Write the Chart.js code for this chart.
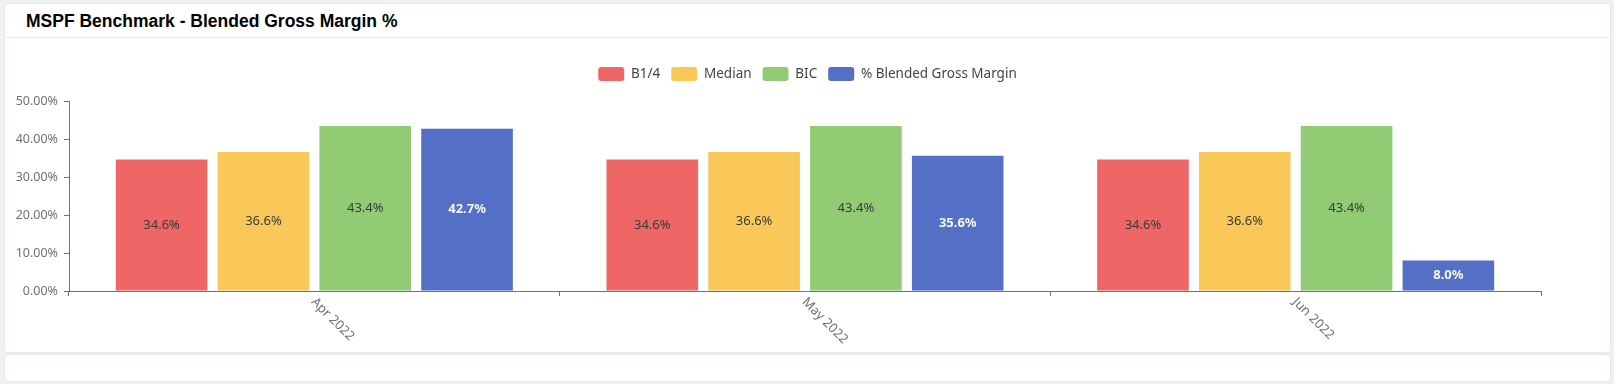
<!DOCTYPE html>
<html>
<head>
<meta charset="utf-8">
<script src="https://cdn.jsdelivr.net/npm/chart.js@4"></script>
<style>
    html, body { margin: 0; padding: 0; }
    body {
        width: 1614px;
        height: 384px;
        background: #eef2f2;
        position: relative;
        overflow: hidden;
        font-family: "Liberation Sans", Arial, sans-serif;
    }
    .card {
        position: absolute;
        left: 4px;
        width: 1605px;
        background: #fff;
        border: 1px solid #e6eaea;
        border-radius: 4px;
    }
    #mainCard { top: 3px; height: 348px; }
    #nextCard { top: 354px; height: 26px; }
    .card-head {
        height: 33px;
        border-bottom: 1px solid #e8ebeb;
        font-weight: bold;
        font-size: 17.5px;
        color: #000;
        line-height: 35px;
        padding-left: 21px;
    }
    .chart-box {
        position: absolute;
        left: 0;
        top: 34px;
        width: 1605px;
        height: 314px;
    }
</style>
</head>
<body>
<div class="card" id="mainCard">
    <div class="card-head">MSPF Benchmark - Blended Gross Margin %</div>
    <div class="chart-box"><canvas id="marginChart"></canvas></div>
</div>
<div class="card" id="nextCard"></div>

<script>
    const months = ["Apr 2022", "May 2022", "Jun 2022"];
    const b14 = [34.6, 34.6, 34.6];
    const median = [36.6, 36.6, 36.6];
    const bic = [43.4, 43.4, 43.4];
    const blendedMargin = [42.7, 35.6, 8.0];

    const axisGray = "#6E7079";
    const chartFont = "'Noto Sans', 'DejaVu Sans', sans-serif";

    // extra room under the legend
    const legendGap = {
        id: "legendGap",
        beforeUpdate(chart) {
            const legend = chart.legend;
            if (!legend || legend._gapPatched) return;
            const fit = legend.fit;
            legend.fit = function () {
                fit.call(this);
                this.height += 10;
            };
            legend._gapPatched = true;
        }
    };

    // values written in the middle of each bar
    const barLabels = {
        id: "barLabels",
        afterDatasetsDraw(chart) {
            const ctx = chart.ctx;
            ctx.save();
            ctx.textAlign = "center";
            ctx.textBaseline = "middle";
            chart.data.datasets.forEach((ds, i) => {
                const meta = chart.getDatasetMeta(i);
                meta.data.forEach((bar, j) => {
                    if (i === 3) {
                        ctx.font = "bold 13px " + chartFont;
                        ctx.fillStyle = "#f4f6fb";
                    } else {
                        ctx.font = "13px " + chartFont;
                        ctx.fillStyle = "#3a3a3a";
                    }
                    ctx.fillText(ds.data[j].toFixed(1) + "%", bar.x, (bar.y + bar.base) / 2);
                });
            });
            ctx.restore();
        }
    };

    // slanted month labels going down to the right
    const monthLabels = {
        id: "monthLabels",
        afterDraw(chart) {
            const ctx = chart.ctx;
            const xScale = chart.scales.x;
            ctx.save();
            ctx.font = "13px " + chartFont;
            ctx.fillStyle = axisGray;
            ctx.textAlign = "left";
            ctx.textBaseline = "middle";
            months.forEach((m, i) => {
                const x = xScale.getPixelForValue(i);
                ctx.save();
                ctx.translate(x - 1, xScale.top + 9);
                ctx.rotate(Math.PI / 4);
                ctx.fillText(m, 0, 0);
                ctx.restore();
            });
            ctx.restore();
        }
    };

    const makeSet = (label, data, color) => ({
        label,
        data,
        backgroundColor: color,
        borderWidth: 0,
        categoryPercentage: 0.83,
        barPercentage: 0.9
    });

    const ctx = document.getElementById("marginChart").getContext("2d");

    new Chart(ctx, {
        type: "bar",
        data: {
            labels: months,
            datasets: [
                makeSet("B1/4", b14, "#EE6666"),
                makeSet("Median", median, "#FAC858"),
                makeSet("BIC", bic, "#91CC75"),
                makeSet("% Blended Gross Margin", blendedMargin, "#5470C6")
            ]
        },
        options: {
            responsive: true,
            maintainAspectRatio: false,
            animation: false,
            layout: { padding: { top: 18, right: 0, left: 0, bottom: 0 } },
            scales: {
                x: {
                    grid: {
                        display: true,
                        drawOnChartArea: false,
                        drawTicks: true,
                        tickLength: 5,
                        color: axisGray
                    },
                    border: { display: true, color: axisGray },
                    ticks: { display: false },
                    afterFit: scale => { scale.height = 61; }
                },
                y: {
                    min: 0,
                    max: 50,
                    grid: {
                        drawOnChartArea: false,
                        drawTicks: true,
                        tickLength: 5,
                        color: axisGray
                    },
                    border: { display: true, color: axisGray },
                    ticks: {
                        stepSize: 10,
                        padding: 6,
                        color: axisGray,
                        font: { family: chartFont, size: 12.5 },
                        callback: v => v.toFixed(2) + "%"
                    },
                    afterFit: scale => { scale.width = 64; }
                },
                // empty right gutter so the legend stays centred on the card
                gutter: {
                    position: "right",
                    display: true,
                    grid: { display: false },
                    border: { display: false },
                    ticks: { display: false },
                    afterFit: scale => { scale.width = 69; }
                }
            },
            plugins: {
                legend: {
                    position: "top",
                    labels: {
                        boxWidth: 26,
                        boxHeight: 14,
                        useBorderRadius: true,
                        borderRadius: 3,
                        padding: 11,
                        color: "#444",
                        font: { family: chartFont, size: 13.5 }
                    }
                },
                tooltip: { enabled: false }
            }
        },
        plugins: [legendGap, barLabels, monthLabels]
    });
</script>
</body>
</html>
